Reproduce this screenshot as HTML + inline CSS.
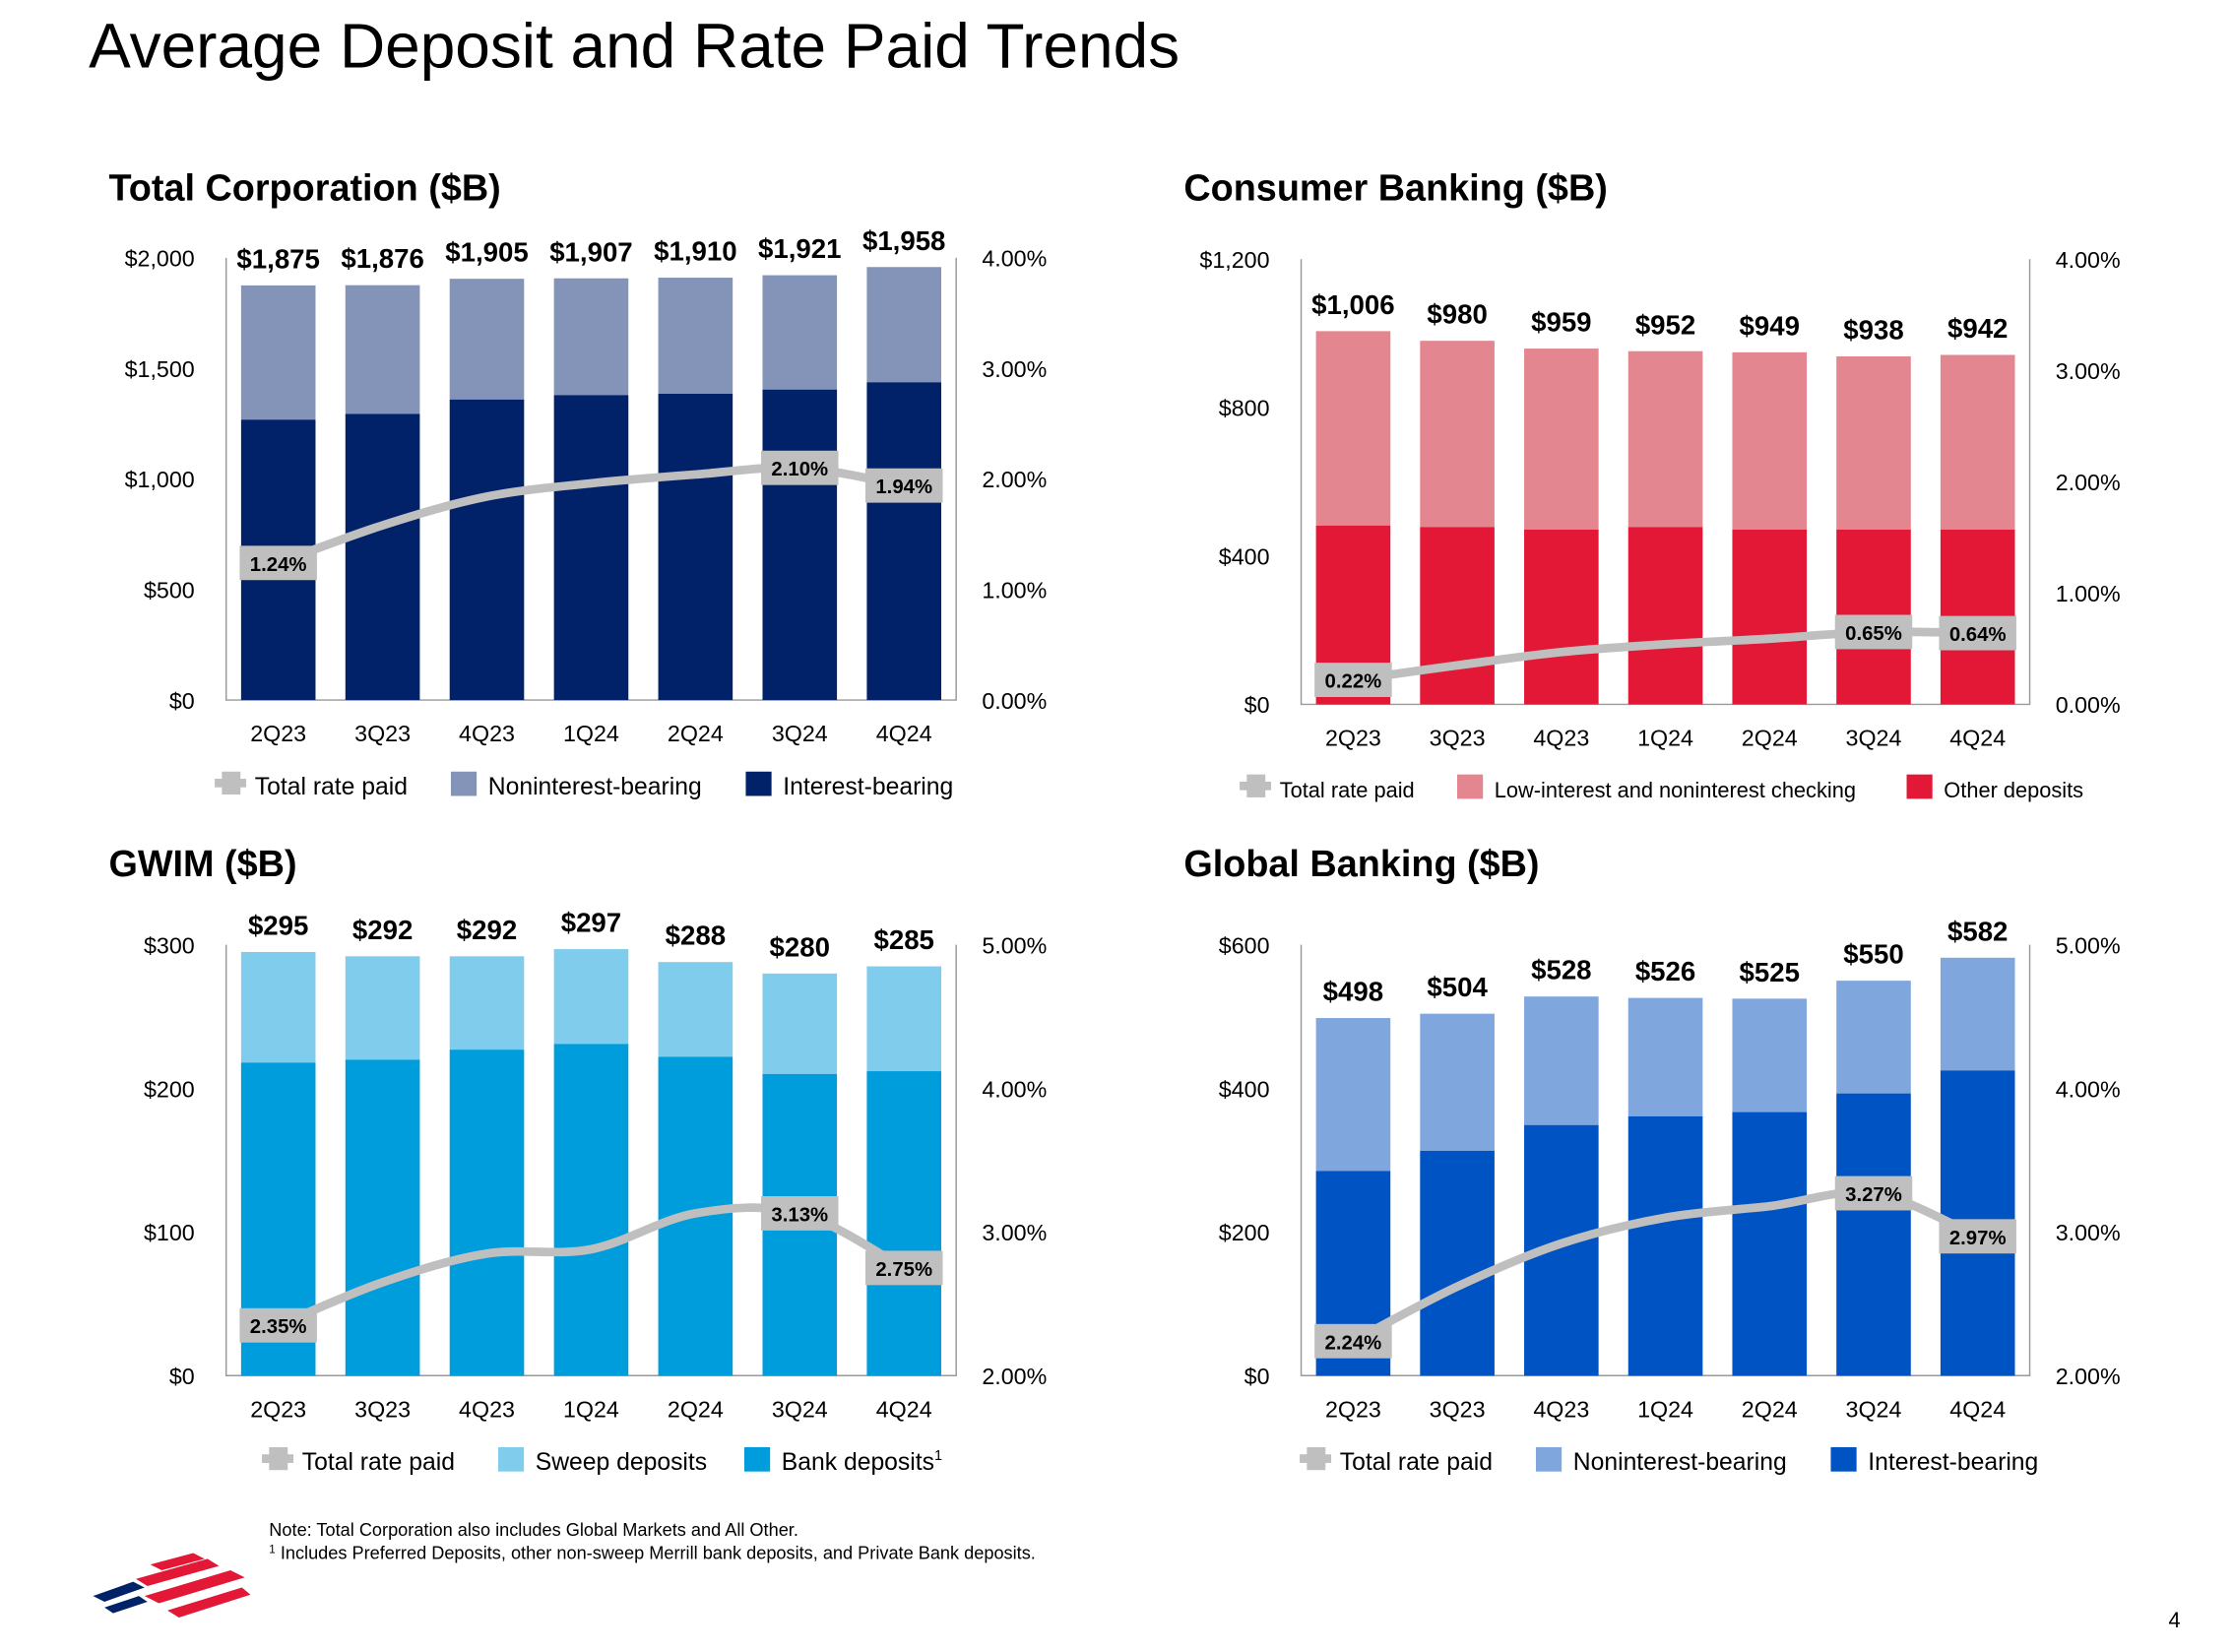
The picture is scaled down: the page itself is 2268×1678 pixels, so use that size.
<!DOCTYPE html>
<html><head><meta charset="utf-8"><style>
html,body{margin:0;padding:0;background:#fff;}
svg{display:block;font-family:"Liberation Sans",sans-serif;}
</style></head><body>
<svg id="s" width="2268" height="1678" viewBox="0 0 1560 1154" xmlns="http://www.w3.org/2000/svg">
<text x="62" y="47" font-size="44" fill="#000">Average Deposit and Rate Paid Trends</text>
<text x="188" y="1073" font-size="12.5">Note: Total Corporation also includes Global Markets and All Other.</text>
<text x="188" y="1089" font-size="12.5"><tspan font-size="8" dy="-4">1</tspan><tspan dy="4"> Includes Preferred Deposits, other non-sweep Merrill bank deposits, and Private Bank deposits.</tspan></text>
<text x="1515" y="1137" font-size="15">4</text>
<g transform="translate(65,1085)">
<polygon points="40,8 70,0 78,4 48,12" fill="#e31837"/>
<polygon points="30,18 80,4 88,9 38,23" fill="#e31837"/>
<polygon points="36,30 96,12 106,17 46,35" fill="#e31837"/>
<polygon points="52,40 104,24 110,29 60,45" fill="#e31837"/>
<polygon points="0,30 28,20 36,24 8,34" fill="#012169"/>
<polygon points="8,38 32,30 38,34 14,42" fill="#012169"/>
</g>
</svg>
<script>
// Total Corporation
const categories = ["2Q23","3Q23","4Q23","1Q24","2Q24","3Q24","4Q24"];
const tcTotal = [1875,1876,1905,1907,1910,1921,1958];
const tcInterest = [1268,1294,1359,1379,1385,1404,1437];
const tcRate = [1.24,1.58,1.84,1.96,2.04,2.10,1.94];
const tcLeftTicks = [0,500,1000,1500,2000];
const tcRightTicks = [0,1,2,3,4];
// Consumer Banking
const cbTotal = [1006,980,959,952,949,938,942];
const cbOther = [482,478,471,478,471,471,471];
const cbRate = [0.22,0.35,0.47,0.54,0.59,0.65,0.64];
const cbLeftTicks = [0,400,800,1200];
const cbRightTicks = [0,1,2,3,4];
// GWIM
const gwTotal = [295,292,292,297,288,280,285];
const gwBank = [218,220,227,231,222,210,212];
const gwRate = [2.35,2.65,2.85,2.88,3.13,3.13,2.75];
const gwLeftTicks = [0,100,200,300];
const gwRightTicks = [2,3,4,5];
// Global Banking
const gbTotal = [498,504,528,526,525,550,582];
const gbInterest = [285,313,349,361,367,393,425];
const gbRate = [2.24,2.62,2.92,3.10,3.18,3.27,2.97];
const gbLeftTicks = [0,200,400,600];
const gbRightTicks = [2,3,4,5];

const NS="http://www.w3.org/2000/svg";
const svg=document.getElementById('s');
function mk(tag,attrs,parent){const e=document.createElementNS(NS,tag);for(const k in attrs)e.setAttribute(k,attrs[k]);(parent||svg).appendChild(e);return e;}
function fmt$(v){return "$"+v.toLocaleString("en-US");}

function chart(c){
  const g=mk('g',{});
  
  
  const t=mk('text',{x:c.tx,y:c.ty,'font-size':26,'font-weight':'bold'},g);t.textContent=c.title;
  
  
  const {L,R,T,B}=c;
  const yL=v=>B-(v-c.lmin)/(c.lmax-c.lmin)*(B-T);
  const yR=v=>B-(v-c.rmin)/(c.rmax-c.rmin)*(B-T);
  const step=(R-L)/categories.length;
  const xC=i=>L+step*(i+0.5);
  const bw=52;
  // axes
  const ax=mk('path',{d:`M${L},${T}V${B}H${R}V${T}`,stroke:'#999',fill:'none','stroke-width':1},g);
  
  
  c.lt.forEach(v=>{const e=mk('text',{x:L-22,y:yL(v)+6,'text-anchor':'end','font-size':16},g);e.textContent=fmt$(v);
    
    });
  c.rt.forEach(v=>{const e=mk('text',{x:R+18,y:yR(v)+6,'font-size':16},g);e.textContent=v.toFixed(2)+'%';
    
    });
  categories.forEach((cat,i)=>{
    const x=xC(i);
    const r1=mk('rect',{x:x-bw/2,y:yL(c.total[i]),width:bw,height:yL(c.base[i])-yL(c.total[i]),fill:c.c1},g);
    
    
    const r2=mk('rect',{x:x-bw/2,y:yL(c.base[i]),width:bw,height:B-yL(c.base[i]),fill:c.c2},g);
    
    
    const vl=mk('text',{x:x,y:yL(c.total[i])-12,'text-anchor':'middle','font-size':19,'font-weight':'bold'},g);vl.textContent=fmt$(c.total[i]);
    
    
    const cl=mk('text',{x:x,y:B+29,'text-anchor':'middle','font-size':16},g);cl.textContent=cat;
    
    
  });
  // line (catmull-rom)
  const P=c.rate.map((v,i)=>[xC(i),yR(v)]);
  let d=`M${P[0][0]},${P[0][1]}`;
  for(let i=0;i<P.length-1;i++){const p0=P[i-1]||P[i],p1=P[i],p2=P[i+1],p3=P[i+2]||p2;
    d+=`C${p1[0]+(p2[0]-p0[0])/6},${p1[1]+(p2[1]-p0[1])/6} ${p2[0]-(p3[0]-p1[0])/6},${p2[1]-(p3[1]-p1[1])/6} ${p2[0]},${p2[1]}`;}
  const ln=mk('path',{d:d,stroke:'#bfbfbf','stroke-width':6,fill:'none'},g);
  
  
  c.lab.forEach(i=>{
    const x=xC(i),y=yR(c.rate[i]);
    const b=mk('rect',{x:x-27,y:y-12,width:54,height:24,fill:'#bfbfbf'},g);
    
    
    const tt=mk('text',{x:x,y:y+5.5,'text-anchor':'middle','font-size':14,'font-weight':'bold'},g);tt.textContent=c.rate[i].toFixed(2)+'%';
    
    
  });
  // legend
  let lx=c.legX;const ly=c.legY;
  const items=[['line','Total rate paid'],[c.c1,c.n1],[c.c2,c.n2]];
  items.forEach((it,k)=>{
    const lg=mk('g',{},g);
    
    
    if(it[0]==='line'){mk('rect',{x:lx,y:ly-9,width:22,height:6,fill:'#bfbfbf'},lg);mk('rect',{x:lx+5,y:ly-14,width:13,height:16,fill:'#bfbfbf'},lg);}
    else mk('rect',{x:lx,y:ly-14,width:18,height:17,fill:it[0]},lg);
    const tx=mk('text',{x:lx+(it[0]==='line'?28:26),y:ly+2,'font-size':c.legFs},lg);tx.textContent=it[1];
    if(k===2&&c.sup){const s=mk('tspan',{'font-size':10,dy:-7},tx);s.textContent='1';}
    lx+=c.legGaps[k];
  });
}
chart({name:'total-corporation-chart',title:'Total Corporation ($B)',tx:76,ty:140,L:158,R:668,T:180,B:489,lmin:0,lmax:2000,rmin:0,rmax:4,
  lt:tcLeftTicks,rt:tcRightTicks,total:tcTotal,base:tcInterest,rate:tcRate,lab:[0,5,6],c1:'#8394b8',c2:'#012169',
  n1:'Noninterest-bearing',n2:'Interest-bearing',legX:150,legY:553,legGaps:[165,206,0],legFs:17});
chart({name:'consumer-banking-chart',title:'Consumer Banking ($B)',tx:827,ty:140,L:909,R:1418,T:181,B:492,lmin:0,lmax:1200,rmin:0,rmax:4,
  lt:cbLeftTicks,rt:cbRightTicks,total:cbTotal,base:cbOther,rate:cbRate,lab:[0,5,6],c1:'#e3868f',c2:'#e31837',
  n1:'Low-interest and noninterest checking',n2:'Other deposits',legX:866,legY:555,legGaps:[152,314,0],legFs:15});
chart({name:'gwim-chart',title:'GWIM ($B)',tx:76,ty:612,L:158,R:668,T:660,B:961,lmin:0,lmax:300,rmin:2,rmax:5,
  lt:gwLeftTicks,rt:gwRightTicks,total:gwTotal,base:gwBank,rate:gwRate,lab:[0,5,6],c1:'#80ccec',c2:'#009ddc',
  n1:'Sweep deposits',n2:'Bank deposits',sup:true,legX:183,legY:1025,legGaps:[165,172,0],legFs:17});
chart({name:'global-banking-chart',title:'Global Banking ($B)',tx:827,ty:612,L:909,R:1418,T:660,B:961,lmin:0,lmax:600,rmin:2,rmax:5,
  lt:gbLeftTicks,rt:gbRightTicks,total:gbTotal,base:gbInterest,rate:gbRate,lab:[0,5,6],c1:'#7fa6dd',c2:'#0053c2',
  n1:'Noninterest-bearing',n2:'Interest-bearing',legX:908,legY:1025,legGaps:[165,206,0],legFs:17});
</script>
</body></html>
